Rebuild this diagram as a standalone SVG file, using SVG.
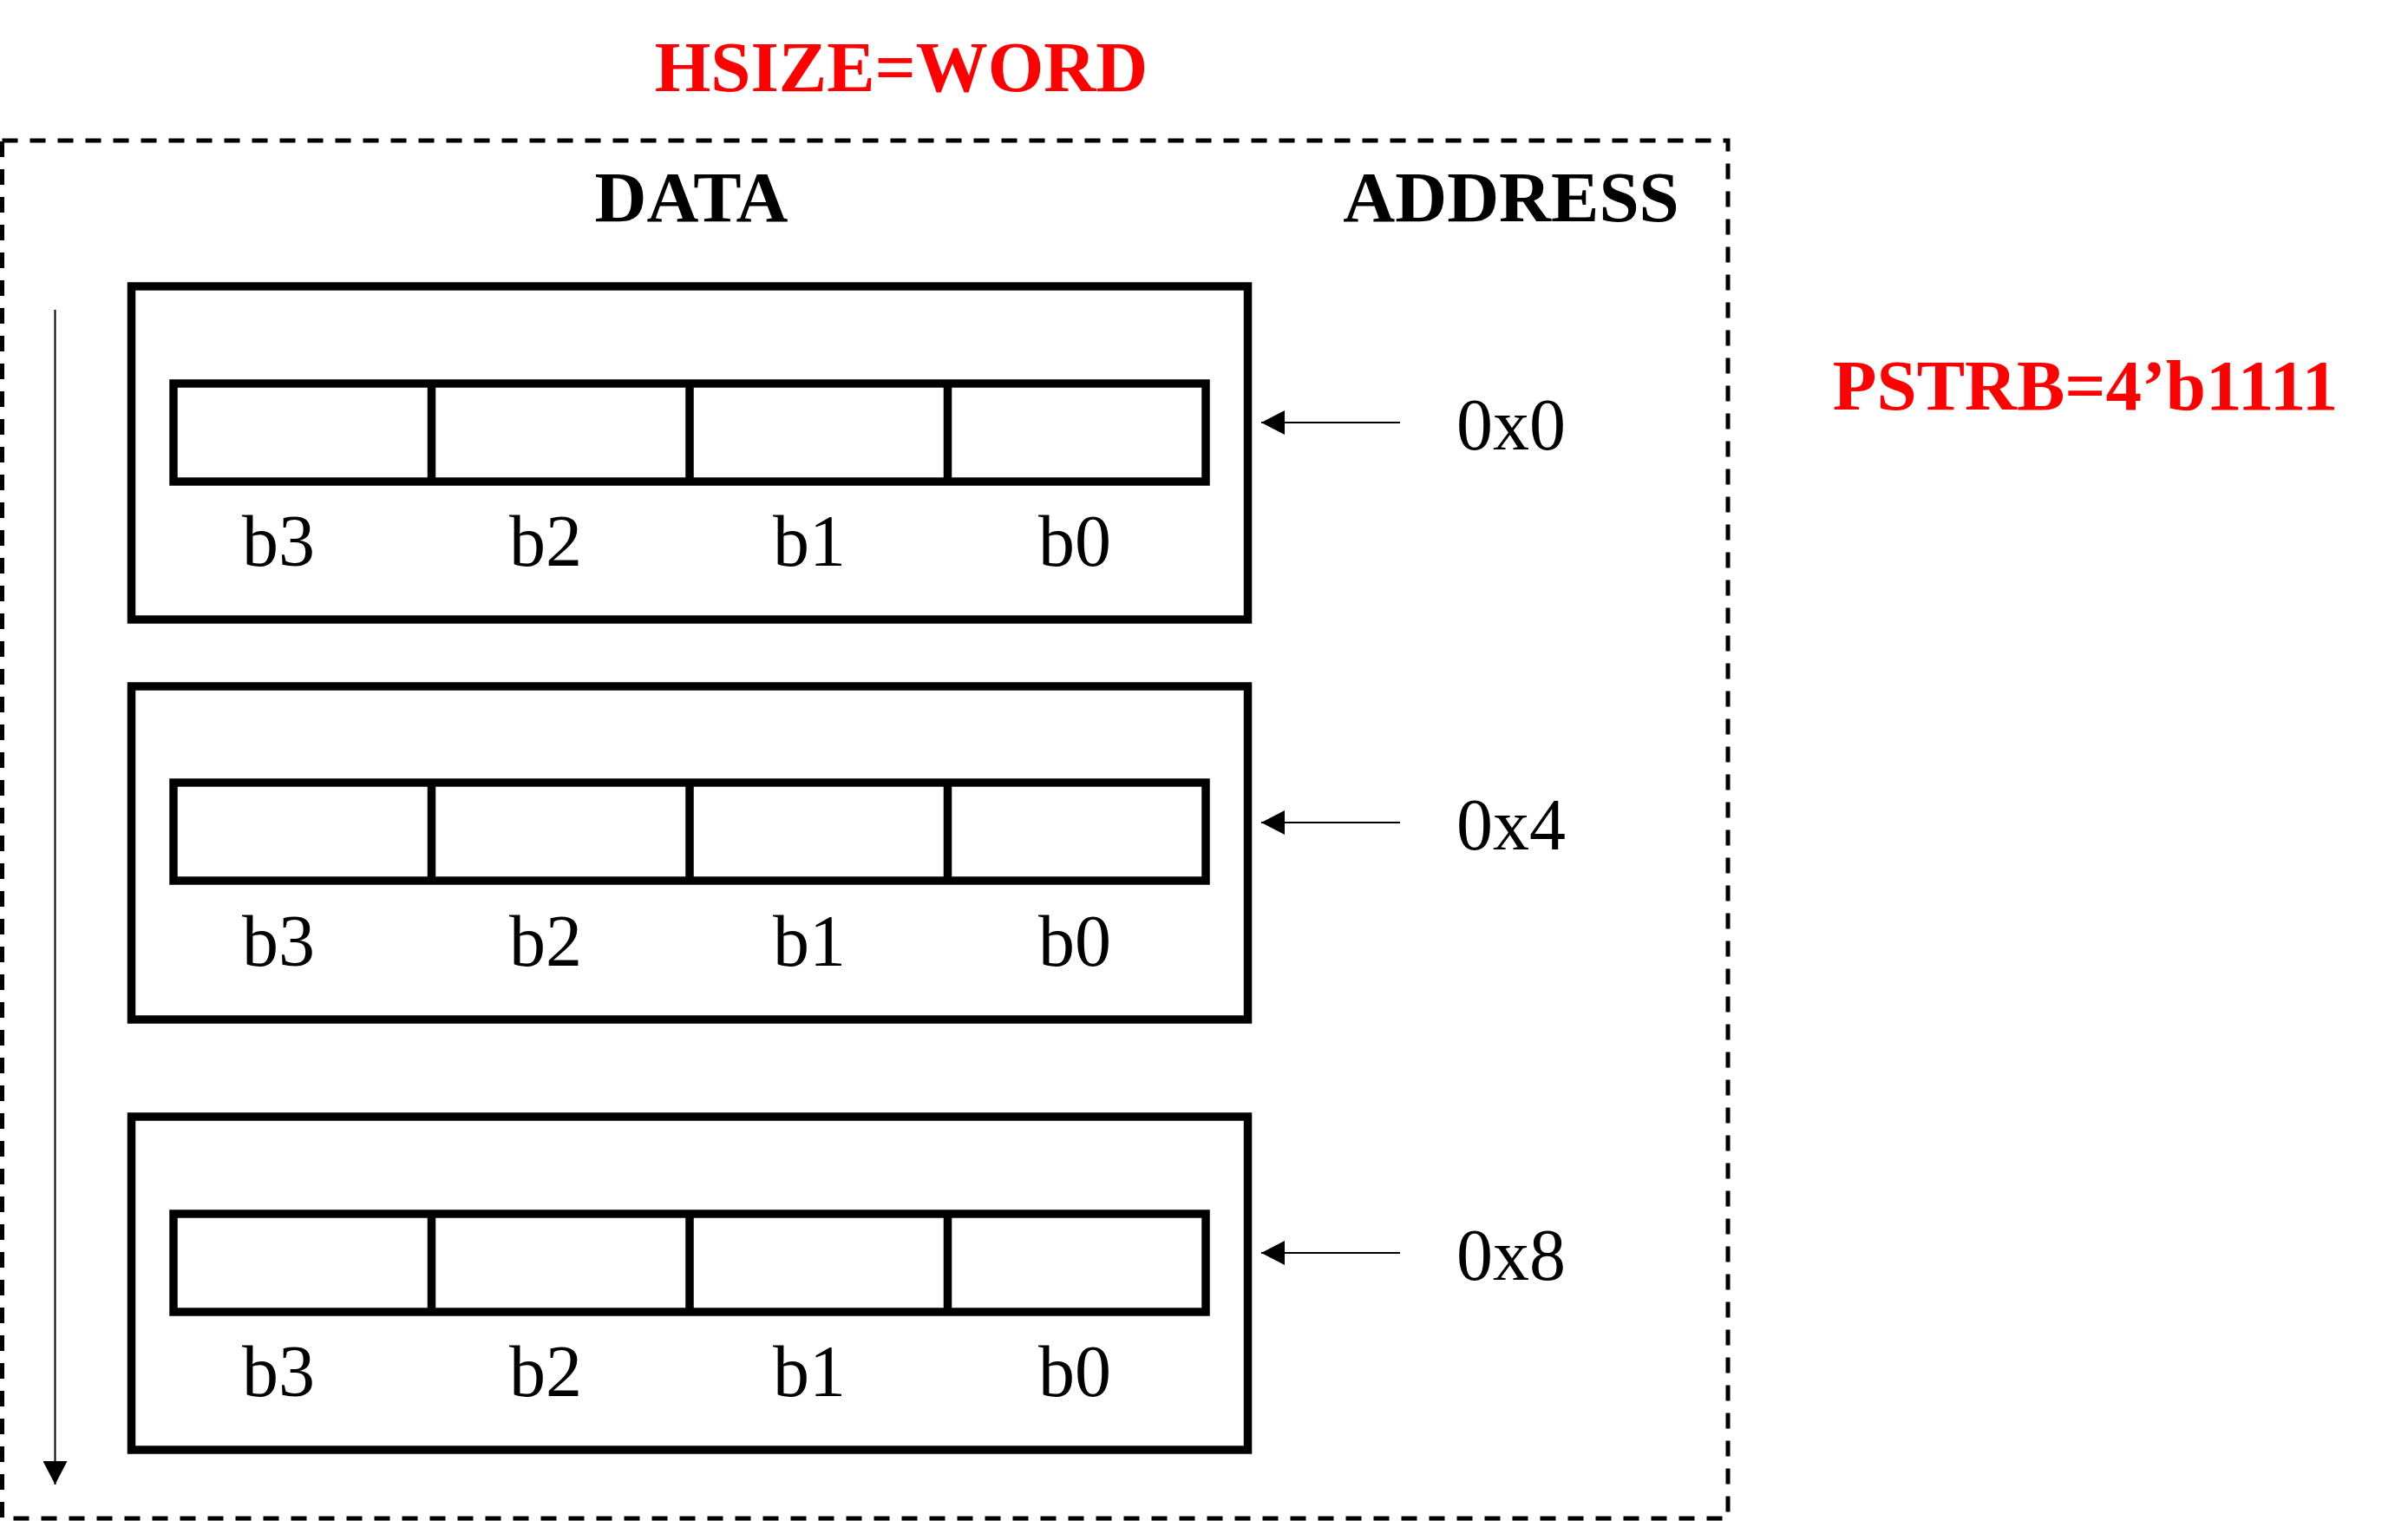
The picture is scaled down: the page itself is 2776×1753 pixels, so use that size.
<svg xmlns="http://www.w3.org/2000/svg" width="2776" height="1753" viewBox="0 0 2776 1753">
<style>
  .frame{fill:none;stroke:#000;stroke-width:5;stroke-dasharray:18 14}
  .outer{fill:#fff;stroke:#000;stroke-width:9.5}
  .cell{fill:none;stroke:#000;stroke-width:9.5}
  .conn{fill:none;stroke:#000;stroke-width:2}
  .title{font-family:"Liberation Serif","Times New Roman",serif;font-weight:bold;font-size:83px;text-anchor:middle;fill:#000}
  .red{fill:#FF0000}
  .lbl{font-family:"Liberation Serif","Times New Roman",serif;font-size:84px;text-anchor:middle;fill:#000}
</style>
<defs>
  <marker id="ah" markerUnits="userSpaceOnUse" viewBox="0 0 27 28" refX="27" refY="14" markerWidth="27" markerHeight="28" orient="auto">
    <path d="M0,0 L27,14 L0,28 Z" fill="#000"/>
  </marker>
</defs>
<rect width="2776" height="1753" fill="#fff"/>
<text class="title red" x="1039" y="105">HSIZE=WORD</text>
<text class="title red" x="2404" y="472">PSTRB=4’b1111</text>
<rect id="frame" class="frame" x="2.5" y="162" width="1989.5" height="1588"/>
<text class="title" x="797" y="255">DATA</text>
<text class="title" x="1742" y="255">ADDRESS</text>

<g id="word0">
  <rect class="outer" x="151.5" y="330" width="1287" height="384"/>
  <rect class="cell" x="200" y="442" width="1190" height="113"/>
  <line class="cell" x1="497.5" y1="442" x2="497.5" y2="555"/>
  <line class="cell" x1="795" y1="442" x2="795" y2="555"/>
  <line class="cell" x1="1092.5" y1="442" x2="1092.5" y2="555"/>
  <text class="lbl" x="321" y="652">b3</text>
  <text class="lbl" x="629" y="652">b2</text>
  <text class="lbl" x="933" y="652">b1</text>
  <text class="lbl" x="1239" y="652">b0</text>
</g>
<g id="word1">
  <rect class="outer" x="151.5" y="791" width="1287" height="384"/>
  <rect class="cell" x="200" y="902" width="1190" height="113"/>
  <line class="cell" x1="497.5" y1="902" x2="497.5" y2="1015"/>
  <line class="cell" x1="795" y1="902" x2="795" y2="1015"/>
  <line class="cell" x1="1092.5" y1="902" x2="1092.5" y2="1015"/>
  <text class="lbl" x="321" y="1113">b3</text>
  <text class="lbl" x="629" y="1113">b2</text>
  <text class="lbl" x="933" y="1113">b1</text>
  <text class="lbl" x="1239" y="1113">b0</text>
</g>
<g id="word2">
  <rect class="outer" x="151.5" y="1287" width="1287" height="384"/>
  <rect class="cell" x="200" y="1399" width="1190" height="113"/>
  <line class="cell" x1="497.5" y1="1399" x2="497.5" y2="1512"/>
  <line class="cell" x1="795" y1="1399" x2="795" y2="1512"/>
  <line class="cell" x1="1092.5" y1="1399" x2="1092.5" y2="1512"/>
  <text class="lbl" x="321" y="1609">b3</text>
  <text class="lbl" x="629" y="1609">b2</text>
  <text class="lbl" x="933" y="1609">b1</text>
  <text class="lbl" x="1239" y="1609">b0</text>
</g>
<g id="addr0"><text class="lbl" x="1742" y="518">0x0</text></g>
<g id="addr1"><text class="lbl" x="1742" y="979">0x4</text></g>
<g id="addr2"><text class="lbl" x="1742" y="1475">0x8</text></g>

<g id="connectors">
  <line class="conn" x1="1614" y1="487" x2="1454" y2="487" marker-end="url(#ah)"/>
  <line class="conn" x1="1614" y1="948" x2="1454" y2="948" marker-end="url(#ah)"/>
  <line class="conn" x1="1614" y1="1444" x2="1454" y2="1444" marker-end="url(#ah)"/>
  <line class="conn" x1="63.5" y1="357" x2="63.5" y2="1711" stroke-width="1.5" marker-end="url(#ah)"/>
</g>
</svg>
